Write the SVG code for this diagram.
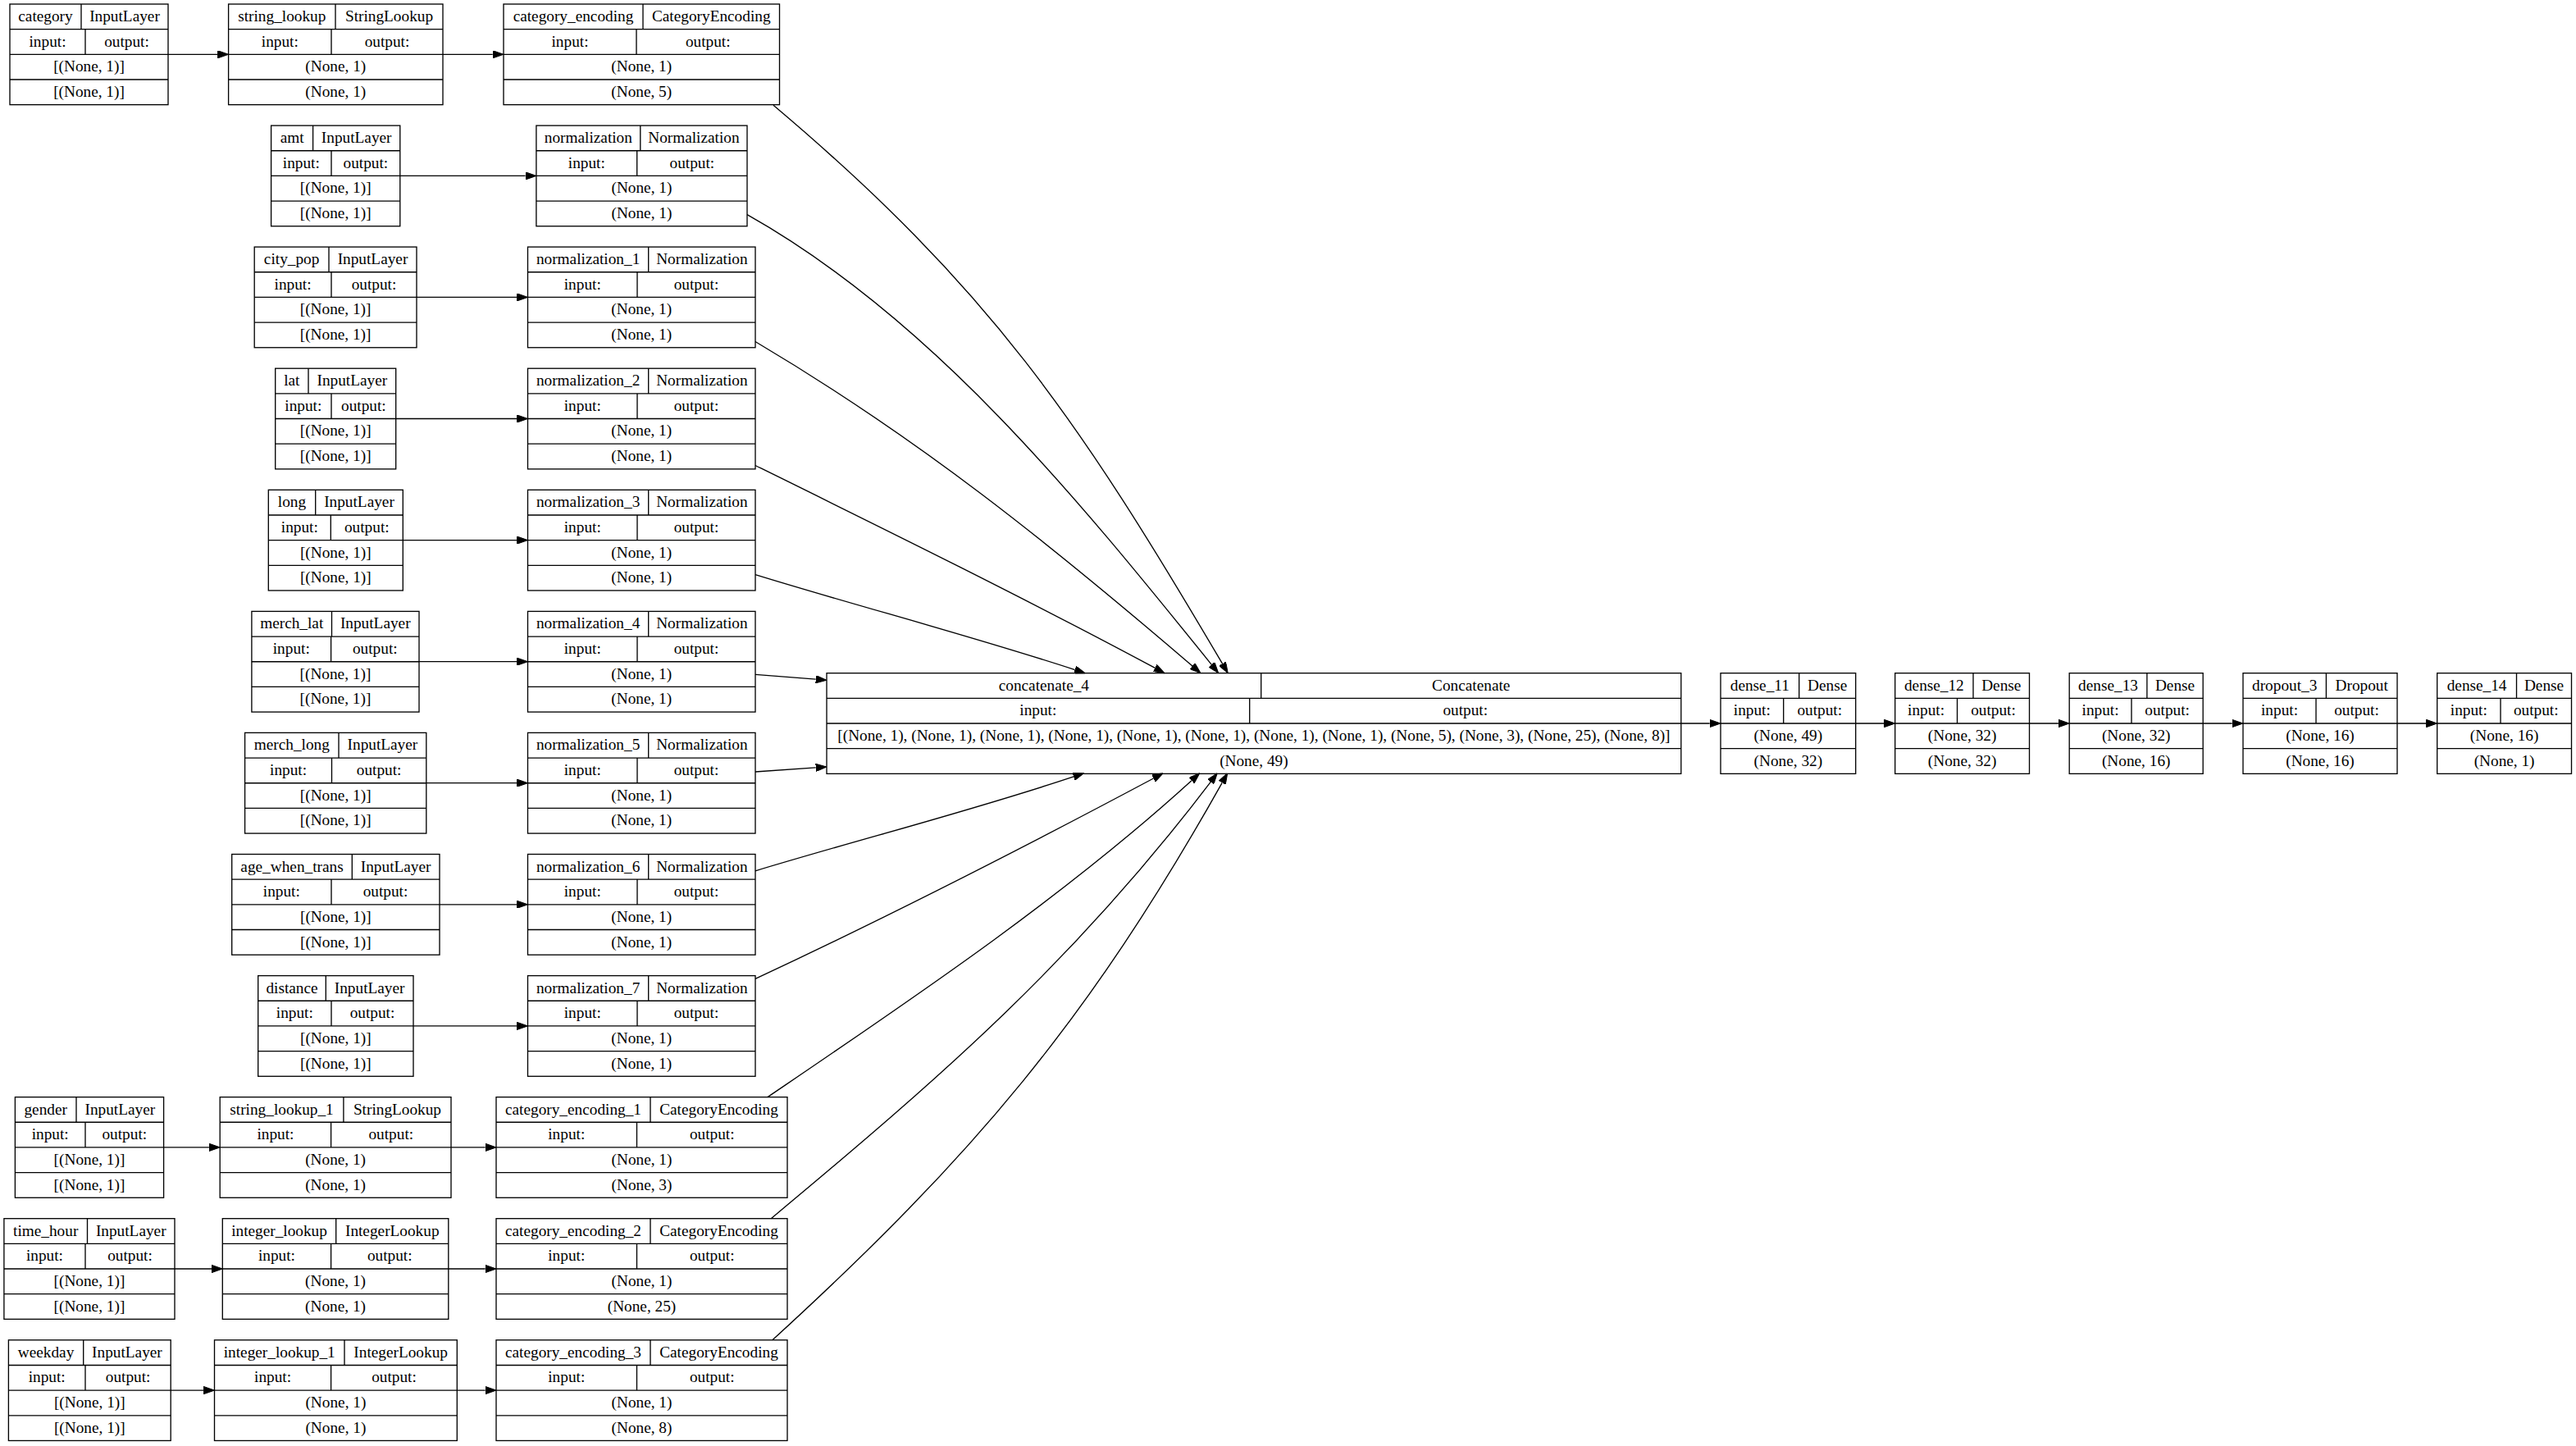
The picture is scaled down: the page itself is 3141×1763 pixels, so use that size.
<svg xmlns="http://www.w3.org/2000/svg" width="3141" height="1763" viewBox="0 0 3141 1763">
<style>
.b{fill:#fff;stroke:#000;stroke-width:1.33}
.l{fill:none;stroke:#000;stroke-width:1.33}
text{font-family:"Liberation Serif","Times New Roman",serif;font-size:19.3px;text-anchor:middle;fill:#000}
.e{fill:none;stroke:#000;stroke-width:1.33;marker-end:url(#ah)}
</style>
<defs>
<marker id="ah" markerWidth="13.33" markerHeight="9.33" refX="0" refY="4.67" orient="auto" markerUnits="userSpaceOnUse" viewBox="0 0 13.33 9.33"><path d="M0,0 L13.33,4.67 L0,9.33z" fill="#000" stroke="#000" stroke-width="1"/></marker>
</defs>
<rect width="3141" height="1763" fill="#fff"/>

<g id="category" transform="translate(12,5)"><rect class="b" width="193" height="122.67"/><path class="l" d="M0,30.67H193M0,61.33H193M0,92H193M87,0V30.67M92,30.67V61.33"/><text x="43.5" y="21">category</text><text x="140" y="21">InputLayer</text><text x="46" y="51.7">input:</text><text x="142.5" y="51.7">output:</text><text x="96.5" y="82.3">[(None, 1)]</text><text x="96.5" y="113">[(None, 1)]</text></g>
<g id="string_lookup" transform="translate(278.6,5)"><rect class="b" width="261.4" height="122.67"/><path class="l" d="M0,30.67H261.4M0,61.33H261.4M0,92H261.4M130.4,0V30.67M125.4,30.67V61.33"/><text x="65.2" y="21">string_lookup</text><text x="195.9" y="21">StringLookup</text><text x="62.7" y="51.7">input:</text><text x="193.4" y="51.7">output:</text><text x="130.7" y="82.3">(None, 1)</text><text x="130.7" y="113">(None, 1)</text></g>
<g id="category_encoding" transform="translate(614,5)"><rect class="b" width="336.5" height="122.67"/><path class="l" d="M0,30.67H336.5M0,61.33H336.5M0,92H336.5M170,0V30.67M162,30.67V61.33"/><text x="85" y="21">category_encoding</text><text x="253.25" y="21">CategoryEncoding</text><text x="81" y="51.7">input:</text><text x="249.25" y="51.7">output:</text><text x="168.25" y="82.3">(None, 1)</text><text x="168.25" y="113">(None, 5)</text></g>

<g id="amt" transform="translate(330.6,153.1)"><rect class="b" width="157.2" height="122.67"/><path class="l" d="M0,30.67H157.2M0,61.33H157.2M0,92H157.2M51,0V30.67M73.4,30.67V61.33"/><text x="25.5" y="21">amt</text><text x="104.1" y="21">InputLayer</text><text x="36.7" y="51.7">input:</text><text x="115.3" y="51.7">output:</text><text x="78.6" y="82.3">[(None, 1)]</text><text x="78.6" y="113">[(None, 1)]</text></g>
<g id="normalization" transform="translate(653.9,153.1)"><rect class="b" width="257.1" height="122.67"/><path class="l" d="M0,30.67H257.1M0,61.33H257.1M0,92H257.1M126.9,0V30.67M122.8,30.67V61.33"/><text x="63.45" y="21">normalization</text><text x="192" y="21">Normalization</text><text x="61.4" y="51.7">input:</text><text x="189.95" y="51.7">output:</text><text x="128.55" y="82.3">(None, 1)</text><text x="128.55" y="113">(None, 1)</text></g>

<g id="city_pop" transform="translate(310.2,301.1)"><rect class="b" width="197.8" height="122.67"/><path class="l" d="M0,30.67H197.8M0,61.33H197.8M0,92H197.8M90.8,0V30.67M93.8,30.67V61.33"/><text x="45.4" y="21">city_pop</text><text x="144.3" y="21">InputLayer</text><text x="46.9" y="51.7">input:</text><text x="145.8" y="51.7">output:</text><text x="98.9" y="82.3">[(None, 1)]</text><text x="98.9" y="113">[(None, 1)]</text></g>
<g id="normalization_1" transform="translate(643.5,301.1)"><rect class="b" width="277.5" height="122.67"/><path class="l" d="M0,30.67H277.5M0,61.33H277.5M0,92H277.5M147.2,0V30.67M133.5,30.67V61.33"/><text x="73.6" y="21">normalization_1</text><text x="212.35" y="21">Normalization</text><text x="66.75" y="51.7">input:</text><text x="205.5" y="51.7">output:</text><text x="138.75" y="82.3">(None, 1)</text><text x="138.75" y="113">(None, 1)</text></g>

<g id="lat" transform="translate(335.7,449.2)"><rect class="b" width="147" height="122.67"/><path class="l" d="M0,30.67H147M0,61.33H147M0,92H147M40.3,0V30.67M68.3,30.67V61.33"/><text x="20.15" y="21">lat</text><text x="93.65" y="21">InputLayer</text><text x="34.15" y="51.7">input:</text><text x="107.65" y="51.7">output:</text><text x="73.5" y="82.3">[(None, 1)]</text><text x="73.5" y="113">[(None, 1)]</text></g>
<g id="normalization_2" transform="translate(643.5,449.2)"><rect class="b" width="277.5" height="122.67"/><path class="l" d="M0,30.67H277.5M0,61.33H277.5M0,92H277.5M147.2,0V30.67M133.5,30.67V61.33"/><text x="73.6" y="21">normalization_2</text><text x="212.35" y="21">Normalization</text><text x="66.75" y="51.7">input:</text><text x="205.5" y="51.7">output:</text><text x="138.75" y="82.3">(None, 1)</text><text x="138.75" y="113">(None, 1)</text></g>

<g id="long" transform="translate(327.3,597.3)"><rect class="b" width="164" height="122.67"/><path class="l" d="M0,30.67H164M0,61.33H164M0,92H164M57.4,0V30.67M76,30.67V61.33"/><text x="28.7" y="21">long</text><text x="110.7" y="21">InputLayer</text><text x="38" y="51.7">input:</text><text x="120" y="51.7">output:</text><text x="82" y="82.3">[(None, 1)]</text><text x="82" y="113">[(None, 1)]</text></g>
<g id="normalization_3" transform="translate(643.5,597.3)"><rect class="b" width="277.5" height="122.67"/><path class="l" d="M0,30.67H277.5M0,61.33H277.5M0,92H277.5M147.2,0V30.67M133.5,30.67V61.33"/><text x="73.6" y="21">normalization_3</text><text x="212.35" y="21">Normalization</text><text x="66.75" y="51.7">input:</text><text x="205.5" y="51.7">output:</text><text x="138.75" y="82.3">(None, 1)</text><text x="138.75" y="113">(None, 1)</text></g>

<g id="merch_lat" transform="translate(306.9,745.4)"><rect class="b" width="204.1" height="122.67"/><path class="l" d="M0,30.67H204.1M0,61.33H204.1M0,92H204.1M97.6,0V30.67M96.7,30.67V61.33"/><text x="48.8" y="21">merch_lat</text><text x="150.85" y="21">InputLayer</text><text x="48.35" y="51.7">input:</text><text x="150.4" y="51.7">output:</text><text x="102.05" y="82.3">[(None, 1)]</text><text x="102.05" y="113">[(None, 1)]</text></g>
<g id="normalization_4" transform="translate(643.5,745.4)"><rect class="b" width="277.5" height="122.67"/><path class="l" d="M0,30.67H277.5M0,61.33H277.5M0,92H277.5M147.2,0V30.67M133.5,30.67V61.33"/><text x="73.6" y="21">normalization_4</text><text x="212.35" y="21">Normalization</text><text x="66.75" y="51.7">input:</text><text x="205.5" y="51.7">output:</text><text x="138.75" y="82.3">(None, 1)</text><text x="138.75" y="113">(None, 1)</text></g>

<g id="merch_long" transform="translate(298.6,893.4)"><rect class="b" width="221.2" height="122.67"/><path class="l" d="M0,30.67H221.2M0,61.33H221.2M0,92H221.2M114.4,0V30.67M105.9,30.67V61.33"/><text x="57.2" y="21">merch_long</text><text x="167.8" y="21">InputLayer</text><text x="52.95" y="51.7">input:</text><text x="163.55" y="51.7">output:</text><text x="110.6" y="82.3">[(None, 1)]</text><text x="110.6" y="113">[(None, 1)]</text></g>
<g id="normalization_5" transform="translate(643.5,893.4)"><rect class="b" width="277.5" height="122.67"/><path class="l" d="M0,30.67H277.5M0,61.33H277.5M0,92H277.5M147.2,0V30.67M133.5,30.67V61.33"/><text x="73.6" y="21">normalization_5</text><text x="212.35" y="21">Normalization</text><text x="66.75" y="51.7">input:</text><text x="205.5" y="51.7">output:</text><text x="138.75" y="82.3">(None, 1)</text><text x="138.75" y="113">(None, 1)</text></g>

<g id="age_when_trans" transform="translate(282.7,1041.5)"><rect class="b" width="253.3" height="122.67"/><path class="l" d="M0,30.67H253.3M0,61.33H253.3M0,92H253.3M146.6,0V30.67M121.3,30.67V61.33"/><text x="73.3" y="21">age_when_trans</text><text x="199.95" y="21">InputLayer</text><text x="60.65" y="51.7">input:</text><text x="187.3" y="51.7">output:</text><text x="126.65" y="82.3">[(None, 1)]</text><text x="126.65" y="113">[(None, 1)]</text></g>
<g id="normalization_6" transform="translate(643.5,1041.5)"><rect class="b" width="277.5" height="122.67"/><path class="l" d="M0,30.67H277.5M0,61.33H277.5M0,92H277.5M147.2,0V30.67M133.5,30.67V61.33"/><text x="73.6" y="21">normalization_6</text><text x="212.35" y="21">Normalization</text><text x="66.75" y="51.7">input:</text><text x="205.5" y="51.7">output:</text><text x="138.75" y="82.3">(None, 1)</text><text x="138.75" y="113">(None, 1)</text></g>

<g id="distance" transform="translate(314.7,1189.6)"><rect class="b" width="189.3" height="122.67"/><path class="l" d="M0,30.67H189.3M0,61.33H189.3M0,92H189.3M82.6,0V30.67M89.3,30.67V61.33"/><text x="41.3" y="21">distance</text><text x="135.95" y="21">InputLayer</text><text x="44.65" y="51.7">input:</text><text x="139.3" y="51.7">output:</text><text x="94.65" y="82.3">[(None, 1)]</text><text x="94.65" y="113">[(None, 1)]</text></g>
<g id="normalization_7" transform="translate(643.5,1189.6)"><rect class="b" width="277.5" height="122.67"/><path class="l" d="M0,30.67H277.5M0,61.33H277.5M0,92H277.5M147.2,0V30.67M133.5,30.67V61.33"/><text x="73.6" y="21">normalization_7</text><text x="212.35" y="21">Normalization</text><text x="66.75" y="51.7">input:</text><text x="205.5" y="51.7">output:</text><text x="138.75" y="82.3">(None, 1)</text><text x="138.75" y="113">(None, 1)</text></g>

<g id="gender" transform="translate(18.4,1337.6)"><rect class="b" width="181.2" height="122.67"/><path class="l" d="M0,30.67H181.2M0,61.33H181.2M0,92H181.2M74.6,0V30.67M85.6,30.67V61.33"/><text x="37.3" y="21">gender</text><text x="127.9" y="21">InputLayer</text><text x="42.8" y="51.7">input:</text><text x="133.4" y="51.7">output:</text><text x="90.6" y="82.3">[(None, 1)]</text><text x="90.6" y="113">[(None, 1)]</text></g>
<g id="string_lookup_1" transform="translate(268.2,1337.6)"><rect class="b" width="281.8" height="122.67"/><path class="l" d="M0,30.67H281.8M0,61.33H281.8M0,92H281.8M150.7,0V30.67M135.4,30.67V61.33"/><text x="75.35" y="21">string_lookup_1</text><text x="216.25" y="21">StringLookup</text><text x="67.7" y="51.7">input:</text><text x="208.6" y="51.7">output:</text><text x="140.9" y="82.3">(None, 1)</text><text x="140.9" y="113">(None, 1)</text></g>
<g id="category_encoding_1" transform="translate(605,1337.6)"><rect class="b" width="355" height="122.67"/><path class="l" d="M0,30.67H355M0,61.33H355M0,92H355M188,0V30.67M171.5,30.67V61.33"/><text x="94" y="21">category_encoding_1</text><text x="271.5" y="21">CategoryEncoding</text><text x="85.75" y="51.7">input:</text><text x="263.25" y="51.7">output:</text><text x="177.5" y="82.3">(None, 1)</text><text x="177.5" y="113">(None, 3)</text></g>

<g id="time_hour" transform="translate(4.9,1485.7)"><rect class="b" width="208.1" height="122.67"/><path class="l" d="M0,30.67H208.1M0,61.33H208.1M0,92H208.1M101.6,0V30.67M99.1,30.67V61.33"/><text x="50.8" y="21">time_hour</text><text x="154.85" y="21">InputLayer</text><text x="49.55" y="51.7">input:</text><text x="153.6" y="51.7">output:</text><text x="104.05" y="82.3">[(None, 1)]</text><text x="104.05" y="113">[(None, 1)]</text></g>
<g id="integer_lookup" transform="translate(271.3,1485.7)"><rect class="b" width="275.5" height="122.67"/><path class="l" d="M0,30.67H275.5M0,61.33H275.5M0,92H275.5M138.4,0V30.67M132.3,30.67V61.33"/><text x="69.2" y="21">integer_lookup</text><text x="206.95" y="21">IntegerLookup</text><text x="66.15" y="51.7">input:</text><text x="203.9" y="51.7">output:</text><text x="137.75" y="82.3">(None, 1)</text><text x="137.75" y="113">(None, 1)</text></g>
<g id="category_encoding_2" transform="translate(605,1485.7)"><rect class="b" width="355" height="122.67"/><path class="l" d="M0,30.67H355M0,61.33H355M0,92H355M188,0V30.67M171.5,30.67V61.33"/><text x="94" y="21">category_encoding_2</text><text x="271.5" y="21">CategoryEncoding</text><text x="85.75" y="51.7">input:</text><text x="263.25" y="51.7">output:</text><text x="177.5" y="82.3">(None, 1)</text><text x="177.5" y="113">(None, 25)</text></g>

<g id="weekday" transform="translate(10.4,1633.8)"><rect class="b" width="197.8" height="122.67"/><path class="l" d="M0,30.67H197.8M0,61.33H197.8M0,92H197.8M91.3,0V30.67M93.6,30.67V61.33"/><text x="45.65" y="21">weekday</text><text x="144.55" y="21">InputLayer</text><text x="46.8" y="51.7">input:</text><text x="145.7" y="51.7">output:</text><text x="98.9" y="82.3">[(None, 1)]</text><text x="98.9" y="113">[(None, 1)]</text></g>
<g id="integer_lookup_1" transform="translate(261.5,1633.8)"><rect class="b" width="295.8" height="122.67"/><path class="l" d="M0,30.67H295.8M0,61.33H295.8M0,92H295.8M158.5,0V30.67M142.1,30.67V61.33"/><text x="79.25" y="21">integer_lookup_1</text><text x="227.15" y="21">IntegerLookup</text><text x="71.05" y="51.7">input:</text><text x="218.95" y="51.7">output:</text><text x="147.9" y="82.3">(None, 1)</text><text x="147.9" y="113">(None, 1)</text></g>
<g id="category_encoding_3" transform="translate(605,1633.8)"><rect class="b" width="355" height="122.67"/><path class="l" d="M0,30.67H355M0,61.33H355M0,92H355M188,0V30.67M171.5,30.67V61.33"/><text x="94" y="21">category_encoding_3</text><text x="271.5" y="21">CategoryEncoding</text><text x="85.75" y="51.7">input:</text><text x="263.25" y="51.7">output:</text><text x="177.5" y="82.3">(None, 1)</text><text x="177.5" y="113">(None, 8)</text></g>

<g id="concatenate_4" transform="translate(1008,820.7)"><rect class="b" width="1041.8" height="122.67"/><path class="l" d="M0,30.67H1041.8M0,61.33H1041.8M0,92H1041.8M529.7,0V30.67M515.7,30.67V61.33"/><text x="264.85" y="21">concatenate_4</text><text x="785.75" y="21">Concatenate</text><text x="257.85" y="51.7">input:</text><text x="778.75" y="51.7">output:</text><text x="520.9" y="82.3">[(None, 1), (None, 1), (None, 1), (None, 1), (None, 1), (None, 1), (None, 1), (None, 1), (None, 5), (None, 3), (None, 25), (None, 8)]</text><text x="520.9" y="113">(None, 49)</text></g>

<g id="dense_11" transform="translate(2098,820.7)"><rect class="b" width="164.7" height="122.67"/><path class="l" d="M0,30.67H164.7M0,61.33H164.7M0,92H164.7M95.7,0V30.67M76.7,30.67V61.33"/><text x="47.85" y="21">dense_11</text><text x="130.2" y="21">Dense</text><text x="38.35" y="51.7">input:</text><text x="120.7" y="51.7">output:</text><text x="82.35" y="82.3">(None, 49)</text><text x="82.35" y="113">(None, 32)</text></g>
<g id="dense_12" transform="translate(2310.7,820.7)"><rect class="b" width="163.8" height="122.67"/><path class="l" d="M0,30.67H163.8M0,61.33H163.8M0,92H163.8M95.3,0V30.67M75.8,30.67V61.33"/><text x="47.65" y="21">dense_12</text><text x="129.55" y="21">Dense</text><text x="37.9" y="51.7">input:</text><text x="119.8" y="51.7">output:</text><text x="81.9" y="82.3">(None, 32)</text><text x="81.9" y="113">(None, 32)</text></g>
<g id="dense_13" transform="translate(2523.2,820.7)"><rect class="b" width="163" height="122.67"/><path class="l" d="M0,30.67H163M0,61.33H163M0,92H163M94.7,0V30.67M75.8,30.67V61.33"/><text x="47.35" y="21">dense_13</text><text x="128.85" y="21">Dense</text><text x="37.9" y="51.7">input:</text><text x="119.4" y="51.7">output:</text><text x="81.5" y="82.3">(None, 32)</text><text x="81.5" y="113">(None, 16)</text></g>
<g id="dropout_3" transform="translate(2735,820.7)"><rect class="b" width="188" height="122.67"/><path class="l" d="M0,30.67H188M0,61.33H188M0,92H188M101.4,0V30.67M89,30.67V61.33"/><text x="50.7" y="21">dropout_3</text><text x="144.7" y="21">Dropout</text><text x="44.5" y="51.7">input:</text><text x="138.5" y="51.7">output:</text><text x="94" y="82.3">(None, 16)</text><text x="94" y="113">(None, 16)</text></g>
<g id="dense_14" transform="translate(2971.7,820.7)"><rect class="b" width="163.8" height="122.67"/><path class="l" d="M0,30.67H163.8M0,61.33H163.8M0,92H163.8M96.8,0V30.67M77.3,30.67V61.33"/><text x="48.4" y="21">dense_14</text><text x="130.3" y="21">Dense</text><text x="38.65" y="51.7">input:</text><text x="120.55" y="51.7">output:</text><text x="81.9" y="82.3">(None, 16)</text><text x="81.9" y="113">(None, 1)</text></g>

<g id="edges">
<path class="e" d="M205,66.3H265.3"/>
<path class="e" d="M540,66.3H600.7"/>
<path class="e" d="M487.8,214.4H640.6"/>
<path class="e" d="M508,362.4H630.2"/>
<path class="e" d="M482.7,510.5H630.2"/>
<path class="e" d="M491.3,658.6H630.2"/>
<path class="e" d="M511,806.7H630.2"/>
<path class="e" d="M519.8,954.7H630.2"/>
<path class="e" d="M536,1102.8H630.2"/>
<path class="e" d="M504,1250.9H630.2"/>
<path class="e" d="M199.6,1398.9H254.9"/>
<path class="e" d="M550,1398.9H591.7"/>
<path class="e" d="M213,1547H258"/>
<path class="e" d="M546.8,1547H591.7"/>
<path class="e" d="M208.2,1695.1H248.2"/>
<path class="e" d="M557.3,1695.1H591.7"/>
<path class="e" d="M943,128.3C1206.6,350.8 1315.6,511.8 1490.5,809.2"/>
<path class="e" d="M911,261.7C1137.2,389.1 1314,608 1477.3,810.3"/>
<path class="e" d="M921,416.5C1120.5,534.8 1277.8,661 1453.9,812"/>
<path class="e" d="M921,567.5C1082.5,647.1 1249.7,729.4 1408.3,814.4"/>
<path class="e" d="M921,700.6C1050,740.3 1182.3,774.6 1310.6,816.6"/>
<path class="e" d="M921,822.3L994.7,828.2"/>
<path class="e" d="M921,941L994.7,935.9"/>
<path class="e" d="M921,1061.8C1050.2,1022.6 1181.1,989.7 1309.1,946.9"/>
<path class="e" d="M921,1193.4C1084.1,1117.1 1247.7,1033.6 1406.5,949"/>
<path class="e" d="M936,1337.6C1112.2,1217.9 1295.5,1095 1452.9,951.7"/>
<path class="e" d="M940.2,1485.7C1149.4,1311.6 1311.6,1170.1 1476.2,953.3"/>
<path class="e" d="M941.9,1633.8C1186.9,1409.7 1327.5,1243.8 1490.2,954.3"/>
<path class="e" d="M2049.8,882H2084.7"/>
<path class="e" d="M2262.7,882H2297.4"/>
<path class="e" d="M2474.5,882H2509.9"/>
<path class="e" d="M2686.2,882H2721.7"/>
<path class="e" d="M2923,882H2958.4"/>
</g>
</svg>
